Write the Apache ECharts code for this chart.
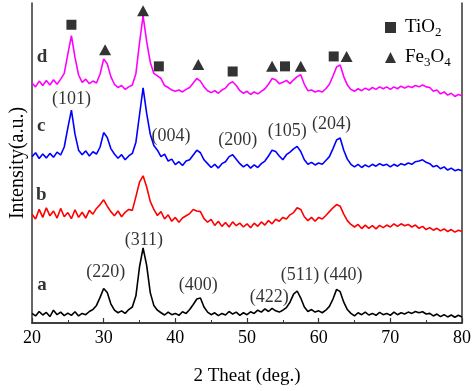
<!DOCTYPE html>
<html>
<head>
<meta charset="utf-8">
<script src="https://cdn.jsdelivr.net/npm/echarts@6/dist/echarts.min.js"></script>
<style>
html,body{margin:0;padding:0;background:#fff;}
#chart{width:474px;height:391px;}
</style>
</head>
<body>
<div id="chart"></div>
<script>
// 2-theta sampling grid (degrees)
const thetaStart = 20, thetaStep = 0.5;

// Intensities (a.u., stacked offsets included), one value per 0.5 deg from 20 to 80
const curveA = [
  3.0,2.2,3.6,2.5,3.3,2.0,4.0,2.6,3.4,2.3,
  3.1,2.4,3.5,2.2,3.0,2.6,3.6,4.2,5.5,8.0,
  10.8,9.5,6.0,4.0,3.2,3.8,3.0,4.2,5.0,8.5,
  17.5,23.5,18.0,9.5,5.5,4.0,3.2,2.5,3.4,2.6,
  3.0,2.4,3.5,3.0,4.2,5.8,7.5,7.8,5.0,3.4,
  2.6,3.2,2.3,3.0,2.5,3.6,2.8,3.4,2.4,3.2,
  2.6,3.5,3.0,4.0,3.4,4.4,3.6,4.6,3.8,3.4,
  4.0,4.8,6.5,9.0,10.0,7.8,5.0,3.6,4.2,3.4,
  3.8,3.2,4.0,5.2,7.5,10.5,9.8,6.5,4.2,3.0,
  2.2,3.2,2.6,3.4,2.5,3.0,2.4,3.3,2.6,3.0,
  2.4,3.4,2.6,3.2,2.8,3.4,3.0,3.6,3.2,3.5,
  2.8,3.0,2.2,2.8,2.0,2.6,1.9,2.5,1.8,2.4,
  1.9
];
const curveB = [
  34.0,32.5,35.5,33.0,36.0,33.5,35.0,32.8,35.8,33.2,
  34.5,32.6,35.4,33.0,34.6,32.8,35.2,34.0,35.8,37.0,
  38.5,36.5,34.8,33.5,35.0,33.2,34.6,35.5,35.2,39.5,
  44.0,46.0,42.5,38.0,35.5,33.6,34.8,32.5,33.8,31.8,
  33.0,31.5,32.8,33.5,34.2,35.5,35.0,34.8,32.6,31.5,
  32.4,30.5,31.8,30.2,31.4,30.0,31.6,30.4,31.2,30.0,
  31.0,29.8,31.2,30.2,31.6,30.6,32.0,31.0,32.4,31.8,
  33.0,32.5,33.8,34.5,36.0,35.5,33.2,32.0,33.0,31.8,
  33.0,32.5,33.6,34.8,36.0,37.0,36.5,34.0,32.0,30.8,
  30.0,30.8,29.5,30.6,29.6,30.4,29.4,30.5,29.8,30.6,
  30.0,31.0,30.2,31.0,30.4,30.8,30.0,30.6,29.6,30.2,
  29.2,29.8,29.0,29.6,28.8,29.4,28.6,29.2,28.4,29.0,
  28.6
];
const curveC = [
  52.0,53.2,51.4,52.8,51.6,53.0,51.8,53.4,52.5,55.0,
  61.0,66.5,59.0,54.0,52.6,53.8,52.2,53.5,52.8,55.0,
  59.5,58.0,54.5,52.8,51.5,52.6,51.0,52.2,53.0,56.5,
  65.0,73.5,65.5,59.0,55.5,54.0,52.0,52.8,50.6,51.2,
  49.5,50.4,49.2,50.6,51.0,52.5,54.0,53.2,51.0,49.8,
  48.6,49.6,48.4,49.8,50.4,52.0,52.6,51.2,49.8,48.8,
  49.6,48.4,49.4,48.6,49.8,50.6,52.2,54.0,53.6,52.2,
  51.0,52.6,53.4,54.4,55.2,53.6,51.0,49.6,50.2,49.4,
  50.0,49.6,50.8,52.0,54.5,57.2,57.8,54.0,51.2,49.6,
  48.8,49.6,48.6,49.4,48.8,49.6,49.0,49.8,49.2,49.6,
  48.8,49.6,49.0,49.8,49.4,50.0,49.6,50.4,50.6,51.0,
  50.2,49.8,48.8,49.2,48.2,48.8,47.8,48.4,47.6,48.0,
  47.6
];
const curveD = [
  75.0,73.8,75.6,74.2,75.8,74.4,76.0,74.6,76.2,78.0,
  84.0,89.8,83.0,77.5,75.2,76.2,74.8,75.6,75.0,77.8,
  82.5,81.0,77.0,74.6,73.6,74.2,73.0,73.8,74.4,78.0,
  87.5,96.0,88.0,81.5,78.0,77.2,76.4,74.2,73.6,72.8,
  72.4,72.8,72.2,73.0,73.6,75.0,76.4,75.6,73.8,72.6,
  72.0,72.6,71.8,72.8,73.4,74.8,75.4,74.2,72.6,71.8,
  72.4,71.4,72.2,71.6,72.4,73.2,74.6,76.4,76.0,74.8,
  75.2,75.8,74.8,76.0,77.0,77.6,74.6,72.6,72.8,72.2,
  72.6,72.2,73.2,74.6,77.2,80.0,80.6,77.0,74.4,73.0,
  72.4,73.2,72.6,73.4,72.8,73.6,73.0,73.8,73.2,73.8,
  73.0,73.8,73.2,74.0,73.4,74.0,73.6,74.2,73.8,74.4,
  73.8,73.6,72.4,72.8,71.6,72.2,71.2,71.8,70.8,71.4,
  71.0
];

// Phase markers above curve d: [2theta, intensity]
const tio2Marks = [[25.5,93.2],[37.7,80.2],[48.0,78.6],[55.3,80.2],[62.1,83.3]];
const fe3o4Marks = [[30.2,85.4],[35.5,97.6],[43.2,80.8],[53.5,80.2],[57.5,80.2],[63.9,83.3]];

// Reflection labels: [2theta, intensity, text]
const hklLabels = [
  [25.5,70.0,'(101)'],[39.4,58.5,'(004)'],[48.7,57.0,'(200)'],
  [55.6,59.8,'(105)'],[61.8,62.2,'(204)'],
  [30.3,15.8,'(220)'],[35.6,26.0,'(311)'],[43.2,11.8,'(400)'],
  [53.1,8.0,'(422)'],[57.4,14.9,'(511)'],[63.4,14.9,'(440)']
];
// Curve letters
const curveLetters = [[21.4,83.0,'d'],[21.3,61.6,'c'],[21.3,40.0,'b'],[21.4,11.8,'a']];

const xTicks = [20,30,40,50,60,70,80];

function pairs(arr){ return arr.map((v,i)=>[thetaStart + i*thetaStep, v]); }

const FONT = '"Liberation Serif","DejaVu Serif",serif';
const chart = echarts.init(document.getElementById('chart'), null, {renderer:'canvas'});

function lineSeries(name, data, color){
  return {name, type:'line', data:pairs(data), showSymbol:false, symbol:'none',
    lineStyle:{color, width:1.6}, itemStyle:{color}, z:2, silent:true};
}
function textSeries(items, extra){
  return {type:'scatter', symbolSize:0, silent:true, z:5,
    data: items.map(d=>({value:[d[0],d[1]], name:d[2]})),
    label: Object.assign({show:true, position:'inside', formatter:p=>p.name,
      fontFamily:FONT, fontSize:18, color:'#000'}, extra||{})};
}

chart.setOption({
  animation:false,
  backgroundColor:'#fff',
  grid:{left:27, right:12, top:3, bottom:65},
  legend:{
    orient:'vertical', left:380, top:13, itemWidth:11, itemHeight:11, itemGap:9,
    data:[{name:'TiO2', icon:'rect'},{name:'Fe3O4', icon:'triangle'}],
    formatter: n => n==='TiO2' ? 'TiO{s|2}' : 'Fe{s|3}O{s|4}',
    textStyle:{fontFamily:FONT, fontSize:19, color:'#000', padding:[0,0,0,4],
      rich:{s:{fontFamily:FONT, fontSize:13, color:'#000', padding:[10,0,0,0]}}}
  },
  xAxis:[{
    type:'value', min:xTicks[0], max:xTicks[xTicks.length-1], interval:10,
    name:'2 Theat (deg.)', nameLocation:'middle', nameGap:44,
    nameTextStyle:{fontFamily:FONT, fontSize:19, color:'#000'},
    axisLine:{lineStyle:{color:'#333', width:1.5}},
    axisTick:{inside:true, length:5, lineStyle:{color:'#333', width:1.2}},
    minorTick:{show:true, splitNumber:2, length:3, lineStyle:{color:'#333', width:1}},
    axisLabel:{fontFamily:FONT, fontSize:18, color:'#000', margin:6},
    splitLine:{show:false}
  },{
    type:'value', position:'top', min:20, max:80,
    axisLine:{show:true, lineStyle:{color:'#333', width:1.5}},
    axisTick:{show:false}, axisLabel:{show:false}, splitLine:{show:false}
  }],
  yAxis:[{
    type:'value', min:0, max:100,
    name:'Intensity(a.u.)', nameLocation:'middle', nameGap:4,
    nameTextStyle:{fontFamily:FONT, fontSize:20, color:'#000'},
    axisLine:{show:true, lineStyle:{color:'#333', width:1.5}},
    axisTick:{show:false}, axisLabel:{show:false}, splitLine:{show:false}
  },{
    type:'value', position:'right', min:0, max:100,
    axisLine:{show:true, lineStyle:{color:'#333', width:1.5}},
    axisTick:{show:false}, axisLabel:{show:false}, splitLine:{show:false}
  }],
  series:[
    lineSeries('a', curveA, '#000000'),
    lineSeries('b', curveB, '#ff0000'),
    lineSeries('c', curveC, '#0000ff'),
    lineSeries('d', curveD, '#ff00ff'),
    {name:'TiO2', type:'scatter', symbol:'rect', symbolSize:10, data:tio2Marks,
      itemStyle:{color:'#000'}, z:4, silent:true},
    {name:'Fe3O4', type:'scatter', symbol:'triangle', symbolSize:[12,11], data:fe3o4Marks,
      itemStyle:{color:'#000'}, z:4, silent:true},
    textSeries(hklLabels),
    textSeries(curveLetters, {fontWeight:'bold', fontSize:19})
  ]
});
</script>
</body>
</html>
